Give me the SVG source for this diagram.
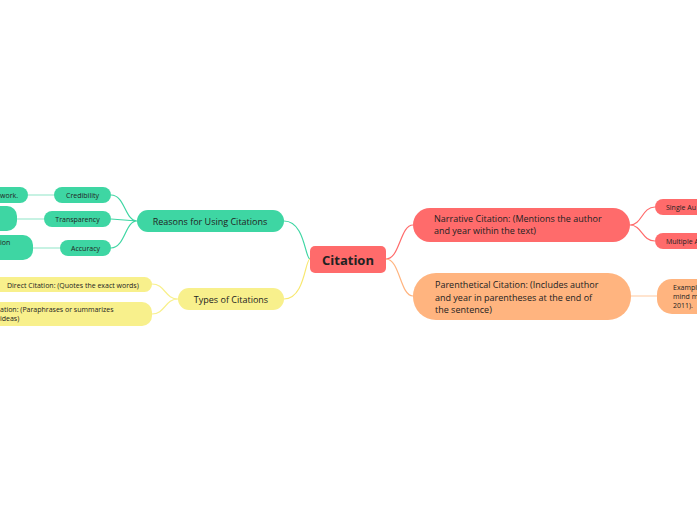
<svg xmlns="http://www.w3.org/2000/svg" width="697" height="520" viewBox="0 0 697 520">
<style>
text{font-family:"Open Sans","Noto Sans",sans-serif;fill:#222}
.g{fill:#3ED6A3}.y{fill:#F8F08C}.r{fill:#FF6B6B}.o{fill:#FFB47F}
.s{font-size:7px}.m{font-size:9px}
.c path{fill:none;stroke-width:1.2}
</style>
<rect width="697" height="520" fill="#fff"/>
<g class="c">
<path d="M284 221 C305 221 305 259 310 259" stroke="#3ED6A3"/>
<path d="M284 299 C305 299 305 259 310 259" stroke="#F8E870"/>
<path d="M386 259 C400 259 400 225 413 225" stroke="#FF6B6B"/>
<path d="M386 259 C400 259 400 296 413 296" stroke="#FFB47F"/>
<path d="M137 221 C125 221 125 195 111 195 M137 221 L111 219 M137 221 C125 221 125 248 111 248" stroke="#3ED6A3"/>
<path d="M54 195 L28 195 M44 219 L17 219 M60 248 L33 248" stroke="#8FE6C8"/>
<path d="M178 299 C165 299 165 284 152 284 M178 299 C165 299 165 314 152 314" stroke="#F8F08C"/>
<path d="M630 225 C642 225 642 207 655 207 M630 225 C642 225 642 241 655 241" stroke="#FF6B6B"/>
<path d="M631 296 L657 296" stroke="#FFD2B0"/>
</g>
<g id="citation"><rect class="r" x="310" y="246" width="76" height="27" rx="5"/><text x="348" y="264.5" text-anchor="middle" font-size="13" font-weight="bold">Citation</text></g>
<g id="reasons"><rect class="g" x="137" y="210" width="147" height="22" rx="11"/><text x="210" y="224.5" text-anchor="middle" class="m">Reasons for Using Citations</text></g>
<g id="credibility"><rect class="g" x="54" y="187" width="57" height="16" rx="8"/><text x="82.5" y="198" text-anchor="middle" class="s">Credibility</text></g>
<g id="cred-leaf"><rect class="g" x="-40" y="187" width="68" height="16" rx="8"/><text x="0" y="198" class="s">work.</text></g>
<g id="transparency"><rect class="g" x="44" y="211" width="67" height="16" rx="8"/><text x="77.5" y="222" text-anchor="middle" class="s">Transparency</text></g>
<g id="trans-leaf"><rect class="g" x="-40" y="206" width="57" height="25" rx="10"/></g>
<g id="accuracy"><rect class="g" x="60" y="240" width="51" height="16" rx="8"/><text x="85.5" y="251" text-anchor="middle" class="s">Accuracy</text></g>
<g id="acc-leaf"><rect class="g" x="-40" y="235" width="73" height="25" rx="10"/><text x="0" y="245" class="s">ion</text></g>
<g id="types"><rect class="y" x="178" y="288" width="106" height="22" rx="11"/><text x="231" y="302.5" text-anchor="middle" class="m">Types of Citations</text></g>
<g id="direct"><rect class="y" x="-20" y="277" width="172" height="15" rx="7.5"/><text x="7" y="287.5" class="s">Direct Citation: (Quotes the exact words)</text></g>
<g id="indirect"><rect class="y" x="-20" y="302" width="172" height="24" rx="10"/><text x="0" y="312" class="s">ation: (Paraphrases or summarizes</text><text x="0" y="321" class="s">ideas)</text></g>
<g id="narrative"><rect class="r" x="413" y="208" width="217" height="34" rx="17"/><text x="434" y="222" class="m">Narrative Citation: (Mentions the author</text><text x="434" y="234" class="m">and year within the text)</text></g>
<g id="single"><rect class="r" x="655" y="199" width="60" height="16" rx="8"/><text x="666" y="210" class="s">Single Au</text></g>
<g id="multiple"><rect class="r" x="655" y="233" width="60" height="16" rx="8"/><text x="666" y="244" class="s">Multiple A</text></g>
<g id="parenthetical"><rect class="o" x="413" y="273" width="218" height="47" rx="23"/><text x="435" y="288" class="m">Parenthetical Citation: (Includes author</text><text x="435" y="300.5" class="m">and year in parentheses at the end of</text><text x="435" y="313" class="m">the sentence)</text></g>
<g id="example"><rect class="o" x="657" y="279" width="60" height="35" rx="15"/><text x="673" y="290" class="s">Exampl</text><text x="673" y="299" class="s">mind m</text><text x="673" y="308" class="s">2011).</text></g>
</svg>
